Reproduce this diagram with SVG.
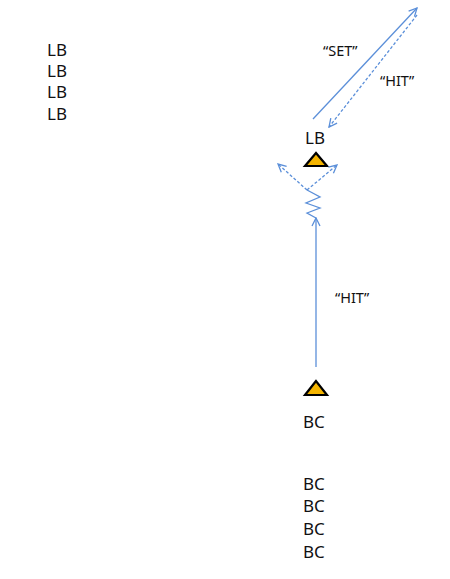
<svg xmlns="http://www.w3.org/2000/svg" width="450" height="579" viewBox="0 0 450 579">
<style>
.t{font-family:"Noto Sans","Open Sans",sans-serif;font-size:17px;fill:#111}
.q{font-family:"Noto Sans","Open Sans",sans-serif;font-size:14.5px;fill:#111}
.c{fill:none;stroke:#5B8FD9;stroke-width:1.3}
.d{stroke-dasharray:3 2}
.tri{fill:#F4B400;stroke:#000;stroke-width:2.2;stroke-linejoin:miter}
</style>
<defs>
<marker id="a" viewBox="0 0 10 10" refX="9" refY="5" markerWidth="10" markerHeight="10" markerUnits="userSpaceOnUse" orient="auto">
<polyline points="1,1 9,5 1,9" fill="none" stroke="#5B8FD9" stroke-width="1.3"/>
</marker>
</defs>
<g id="lb-list">
<text class="t" x="47" y="56">LB</text>
<text class="t" x="47" y="77">LB</text>
<text class="t" x="47" y="98">LB</text>
<text class="t" x="47" y="120">LB</text>
</g>
<g id="lb-node">
<text class="t" x="305" y="144">LB</text>
<polygon class="tri" points="316,153 305,166 327,166"/>
</g>
<g id="bc-node">
<polygon class="tri" points="316,381 305,395 327,395"/>
<text class="t" x="303" y="428">BC</text>
</g>
<g id="bc-list">
<text class="t" x="303" y="490">BC</text>
<text class="t" x="303" y="512">BC</text>
<text class="t" x="303" y="535">BC</text>
<text class="t" x="303" y="558">BC</text>
</g>
<g id="connectors">
<line class="c" x1="313" y1="119" x2="417" y2="8" marker-end="url(#a)"/>
<line class="c d" x1="417" y1="15" x2="329" y2="127" marker-end="url(#a)"/>
<line class="c" x1="316" y1="367" x2="316" y2="218" marker-end="url(#a)"/>
<polyline class="c" points="316,218 307,213 320,208 306,203 320,197 307,190"/>
<line class="c d" x1="307" y1="190" x2="278" y2="164" marker-end="url(#a)"/>
<line class="c d" x1="307" y1="190" x2="337" y2="165" marker-end="url(#a)"/>
</g>
<g id="labels">
<text class="q" x="323" y="56">“SET”</text>
<text class="q" x="380" y="86">“HIT”</text>
<text class="q" x="335" y="303">“HIT”</text>
</g>
</svg>
